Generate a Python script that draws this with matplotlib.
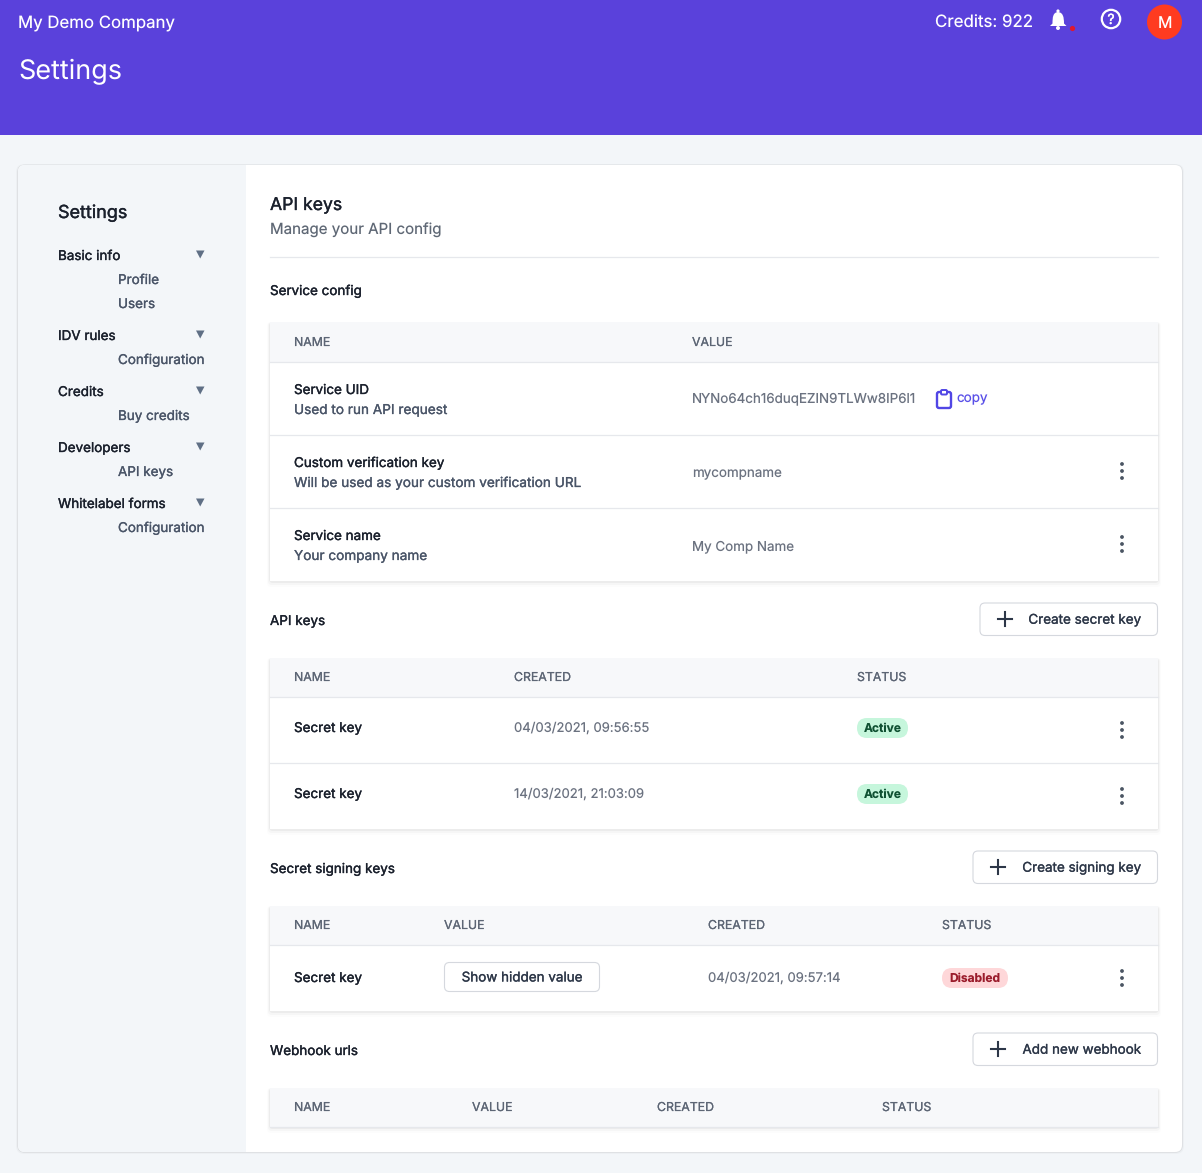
import matplotlib
matplotlib.use('Agg')
import matplotlib.pyplot as plt
import matplotlib.patheffects as pe
from matplotlib.patches import FancyBboxPatch, Rectangle, Circle, PathPatch, Polygon
from matplotlib.path import Path

plt.rcParams['font.family'] = ['Inter', 'Liberation Sans', 'DejaVu Sans']
plt.rcParams['text.hinting'] = 'no_hinting'

company = 'My Demo Company'
page_title = 'Settings'
credits_label = 'Credits: 922'
avatar_letter = 'M'

sidebar_title = 'Settings'
sidebar_groups = ['Basic info', 'IDV rules', 'Credits', 'Developers', 'Whitelabel forms']
sidebar_items = [['Profile', 'Users'], ['Configuration'], ['Buy credits'], ['API keys'], ['Configuration']]

main_title = 'API keys'
main_subtitle = 'Manage your API config'

section_names = ['Service config', 'API keys', 'Secret signing keys', 'Webhook urls']
button_labels = ['Create secret key', 'Create signing key', 'Add new webhook']

service_names = ['Service UID', 'Custom verification key', 'Service name']
service_desc = ['Used to run API request', 'Will be used as your custom verification URL', 'Your company name']
service_values = ['NYNo64ch16duqEZIN9TLWw8IP6l1', 'mycompname', 'My Comp Name']

api_dates = ['04/03/2021, 09:56:55', '14/03/2021, 21:03:09']
signing_date = '04/03/2021, 09:57:14'

PURPLE = '#5a41db'
PAGE = '#f3f6f9'
DARK = '#1a202c'
TEXT = '#2d3748'
GREY = '#6b7280'
HEAD = '#5d6675'
LINE = '#e6e8ec'
BODY = 13.45

fig = plt.figure(figsize=(12.02, 11.73), dpi=100, facecolor=PAGE)
ax = fig.add_axes([0, 0, 1, 1])
ax.set_xlim(0, 1202)
ax.set_ylim(1173, 0)
ax.axis('off')


def txt(x, y, s, px=BODY, color=TEXT, stroke=0, ha='left', weight='normal'):
    # y is the baseline, px is the css font size
    t = ax.text(x, y, s, fontsize=px * 0.72, color=color, fontweight=weight, ha=ha, va='baseline', zorder=6)
    if stroke:
        # no medium weight available, thicken a little
        t.set_path_effects([pe.withStroke(linewidth=stroke, foreground=color)])


def round_box(x0, y0, x1, y1, r, fc, ec='none', lw=0, alpha=1, z=1):
    ax.add_patch(FancyBboxPatch((x0 + r, y0 + r), x1 - x0 - 2 * r, y1 - y0 - 2 * r,
                                boxstyle='round,pad=%f,rounding_size=%f' % (r, r),
                                fc=fc, ec=ec, lw=lw, alpha=alpha, zorder=z))


def rect(x0, y0, x1, y1, fc, z=1):
    ax.add_patch(Rectangle((x0, y0), x1 - x0, y1 - y0, fc=fc, ec='none', zorder=z))


def kebab(x, y):
    for dy in (-7, 0, 7):
        ax.add_patch(Circle((x, y + dy), 1.9, fc='#4b5563', ec='none', zorder=3))


def table_shell(y0, y_head, y1):
    for side, down, a in ((3, 6, 0.012), (2, 4, 0.025), (1, 2, 0.04)):
        round_box(270 - side, y0, 1158 + side, y1 + down, 4, '#000000', alpha=a, z=1)
    rect(270, y0, 1158, y1, 'white', z=2)
    rect(270, y0, 1158, y_head, '#f7f8fa', z=2)
    row_line(y_head)


def row_line(y):
    ax.plot([270, 1158], [y, y], color=LINE, lw=0.9, zorder=3)


def head(x, y, s):
    txt(x, y, s, 12.3, HEAD, stroke=0.15)


def badge(x0, x1, yc, s, fc, color):
    round_box(x0, yc - 10, x1, yc + 10, 10, fc, z=3)
    txt((x0 + x1) / 2, yc + 4.2, s, 12, color, ha='center', weight='bold')


def button(x0, x1, y0, y1, s, plus=True):
    round_box(x0, y0, x1, y1, 5, 'white', ec='#d5d8de', lw=0.8, z=3)
    yc = (y0 + y1) / 2
    if plus:
        ax.plot([x0 + 18, x0 + 32], [yc, yc], color=TEXT, lw=1.5, zorder=4)
        ax.plot([x0 + 25, x0 + 25], [yc - 7, yc + 7], color=TEXT, lw=1.5, zorder=4)
        txt(x1 - 16.5, yc + 4.5, s, BODY, TEXT, stroke=0.2, ha='right')
    else:
        txt((x0 + x1) / 2, yc + 4.5, s, BODY, TEXT, stroke=0.2, ha='center')


# top banner
rect(0, 0, 1202, 135, PURPLE)
txt(18, 28, company, 16.8, '#ffffff')
txt(18, 79, page_title, 27, '#ffffff')
txt(935, 28, credits_label, 16.9, '#ffffff')

# bell
bell = Path([(1050, 26), (1052.5, 23.5), (1052.5, 17), (1053, 12.5), (1058, 12), (1063, 12.5),
             (1064, 17), (1064, 23.5), (1066.5, 26), (1050, 26)],
            [Path.MOVETO, Path.LINETO, Path.CURVE4, Path.CURVE4, Path.CURVE4, Path.CURVE4,
             Path.CURVE4, Path.LINETO, Path.LINETO, Path.CLOSEPOLY])
ax.add_patch(PathPatch(bell, fc='white', ec='none', zorder=3))
ax.add_patch(Circle((1058, 11), 1.6, fc='white', ec='none', zorder=3))
ax.add_patch(Circle((1058, 28), 2, fc='white', ec='none', zorder=3))
ax.add_patch(Circle((1072.5, 28.5), 2.6, fc='#e0182d', ec='none', zorder=4))

# help icon
ax.add_patch(Circle((1111, 19), 9.2, fc='none', ec='white', lw=1.6, zorder=3))
txt(1111, 24, '?', 14, 'white', stroke=0.25, ha='center')

# avatar
ax.add_patch(Circle((1164.5, 22), 17.5, fc='#ff3b20', ec='none', zorder=3))
txt(1164.5, 28, avatar_letter, 16, 'white', ha='center')

# card
for grow, a in ((2, 0.025), (1, 0.06)):
    round_box(18 - grow, 165 - grow * 0.5, 1182 + grow, 1152 + grow, 8, '#000000', alpha=a, z=1)
round_box(18, 165, 1182, 1152, 7, 'white', z=1)
round_box(18, 165, 240, 1152, 7, PAGE, z=1)
rect(200, 165, 246, 1152, PAGE)

# sidebar
txt(58, 218, sidebar_title, 18, DARK, stroke=0.25)
group_y = [260, 340, 396, 452, 508]
for name, items, y in zip(sidebar_groups, sidebar_items, group_y):
    txt(58, y, name, BODY, DARK, stroke=0.25)
    ax.add_patch(Polygon([[196, y - 9.5], [204.5, y - 9.5], [200.2, y - 1.5]], fc='#5f6f85', ec='none', zorder=3))
    for i, item in enumerate(items):
        txt(118, y + 24 * (i + 1), item, BODY, '#4a5568', stroke=0.2)

# main header
txt(270, 210, main_title, 17.6, DARK, stroke=0.25)
txt(270, 235, main_subtitle, 15.1, '#5f6875')
row_line(257)

# section titles
for name, y in zip(section_names, [295, 625, 873, 1055]):
    txt(270, y, name, BODY, DARK, stroke=0.25)

# service config table
table_shell(322, 362, 581)
head(294, 346, 'NAME')
head(692, 346, 'VALUE')
row_line(435)
row_line(508)
for name, desc, val, y1, y2, yv in zip(service_names, service_desc, service_values,
                                       [394, 467, 540], [414, 487, 560], [402, 477, 550]):
    txt(294, y1, name, BODY, DARK, stroke=0.25)
    txt(294, y2, desc, 13.6, '#4a5568', stroke=0.2)
    txt(692, yv, val, 13.4, GREY)

# clipboard icon + copy link
round_box(937, 392, 951, 408, 2, 'none', ec='#5146e5', lw=1.7, z=4)
round_box(941, 390, 947, 394.5, 1.2, 'white', ec='#5146e5', lw=1.4, z=5)
txt(956, 402, 'copy', BODY, '#5a50e8')
kebab(1122, 471)
kebab(1122, 544)

# api keys table
button(980, 1157.5, 603, 635.5, button_labels[0])
table_shell(658, 697, 829)
head(294, 681, 'NAME')
head(514, 681, 'CREATED')
head(857, 681, 'STATUS')
row_line(763)
for date, y, yc in zip(api_dates, [732, 798], [728, 794]):
    txt(294, y, 'Secret key', BODY, DARK, stroke=0.25)
    txt(514, y, date, 13.1, GREY)
    badge(857, 908, yc, 'Active', '#c6f6dc', '#0f5132')
    kebab(1122, yc + 2)

# signing keys table
button(973, 1157.5, 851, 883.5, button_labels[1])
table_shell(906, 945, 1011)
head(294, 929, 'NAME')
head(444, 929, 'VALUE')
head(708, 929, 'CREATED')
head(942, 929, 'STATUS')
txt(294, 982, 'Secret key', BODY, DARK, stroke=0.25)
button(444.5, 599.5, 962.5, 991.5, 'Show hidden value', plus=False)
txt(708, 982, signing_date, 13.1, GREY)
badge(942, 1008, 978, 'Disabled', '#fed7d9', '#9b1c2c')
kebab(1122, 978)

# webhook table
button(973, 1157.5, 1033, 1065.5, button_labels[2])
table_shell(1088, 1127, 1127)
head(294, 1111, 'NAME')
head(472, 1111, 'VALUE')
head(657, 1111, 'CREATED')
head(882, 1111, 'STATUS')

fig.savefig('out.png', dpi=100, facecolor=PAGE)
